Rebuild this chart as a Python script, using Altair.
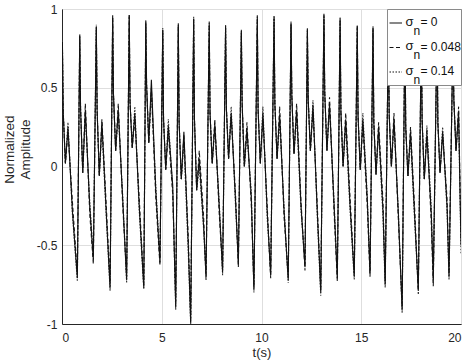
import altair as alt
import pandas as pd

# ---- values ----
peak_times = [0.02, 0.89, 1.72, 2.54, 3.37, 4.20, 5.05, 5.83, 6.60, 7.38, 8.20, 8.99, 9.79,
              10.63, 11.48, 12.30, 13.13, 13.94, 14.80, 15.59, 16.36, 17.19, 18.01, 18.80, 19.60]
min_times = [0.77, 1.57, 2.41, 3.24, 4.10, 4.91, 5.70, 6.45, 7.22, 8.05, 8.84, 9.62,
             10.46, 11.34, 12.18, 12.97, 13.80, 14.65, 15.44, 16.20, 17.05, 17.86, 18.61, 19.40]

shoulders = [0.35, 0.37, 0.36, 0.46, 0.41, 0.52, 0.30, 0.28, 0.30, 0.34, 0.37, 0.40, 0.36,
             0.40, 0.45, 0.43, 0.47, 0.35, 0.32, 0.28, 0.33, 0.25, 0.30, 0.28, 0.43]
dips = [0.02, -0.04, -0.06, 0.10, 0.12, 0.15, -0.02, -0.08, -0.15, 0.02, 0.05, 0.00, 0.02,
        0.05, 0.08, 0.10, 0.10, 0.00, -0.02, -0.05, 0.00, -0.06, -0.08, -0.04, 0.10]

# sigma_n = 0
peaks_0 = [0.79, 0.83, 0.89, 0.96, 0.96, 0.92, 0.87, 0.90, 0.94, 0.91, 0.89, 0.86, 0.95,
           0.95, 0.91, 0.87, 0.97, 0.94, 0.89, 0.88, 0.86, 0.90, 0.84, 0.88, 0.83]
bumps_0 = [0.25, 0.36, 0.28, 0.36, 0.34, 0.55, 0.26, 0.22, 0.05, 0.27, 0.34, 0.24, 0.34,
           0.33, 0.36, 0.39, 0.40, 0.30, 0.30, 0.25, 0.30, 0.22, 0.20, 0.22, 0.35]
knees_0 = [-0.28, -0.25, -0.30, -0.20, -0.25, -0.15, -0.12, -0.50, -0.38, -0.25, -0.22, -0.20, -0.30,
           -0.28, -0.25, -0.30, -0.22, -0.25, -0.20, -0.28, -0.30, -0.35, -0.30, -0.25, -0.50]
minima_0 = [-0.71, -0.59, -0.77, -0.72, -0.77, -0.61, -0.89, -0.99, -0.70, -0.67, -0.62, -0.78,
            -0.69, -0.72, -0.64, -0.80, -0.71, -0.70, -0.68, -0.75, -0.91, -0.79, -0.71, -0.70]

# sigma_n = 0.048
peaks_048 = [0.78, 0.84, 0.88, 0.95, 0.97, 0.91, 0.86, 0.91, 0.93, 0.92, 0.88, 0.85, 0.96,
             0.94, 0.90, 0.88, 0.96, 0.93, 0.90, 0.87, 0.85, 0.91, 0.85, 0.87, 0.84]
bumps_048 = [0.22, 0.40, 0.30, 0.40, 0.30, 0.50, 0.22, 0.20, 0.10, 0.30, 0.32, 0.28, 0.30,
             0.38, 0.40, 0.35, 0.44, 0.34, 0.26, 0.28, 0.34, 0.25, 0.24, 0.20, 0.38]
knees_048 = [-0.22, -0.30, -0.25, -0.24, -0.20, -0.20, -0.18, -0.45, -0.32, -0.30, -0.18, -0.25, -0.26,
             -0.32, -0.22, -0.26, -0.27, -0.20, -0.25, -0.22, -0.34, -0.30, -0.36, -0.20, -0.45]
minima_048 = [-0.68, -0.62, -0.74, -0.70, -0.75, -0.63, -0.86, -0.97, -0.72, -0.65, -0.64, -0.76,
              -0.71, -0.70, -0.66, -0.78, -0.73, -0.68, -0.70, -0.73, -0.89, -0.81, -0.76, -0.68]

# sigma_n = 0.14
peaks_014 = [0.80, 0.82, 0.90, 0.94, 0.95, 0.93, 0.88, 0.89, 0.95, 0.90, 0.90, 0.87, 0.94,
             0.96, 0.92, 0.86, 0.95, 0.95, 0.88, 0.89, 0.87, 0.89, 0.86, 0.89, 0.82]
bumps_014 = [0.28, 0.32, 0.24, 0.33, 0.38, 0.48, 0.30, 0.15, 0.00, 0.24, 0.38, 0.20, 0.38,
             0.28, 0.32, 0.42, 0.36, 0.26, 0.34, 0.22, 0.26, 0.18, 0.26, 0.25, 0.30]
knees_014 = [-0.30, -0.22, -0.32, -0.18, -0.28, -0.12, -0.15, -0.55, -0.40, -0.22, -0.26, -0.16, -0.34,
             -0.25, -0.28, -0.33, -0.20, -0.28, -0.18, -0.32, -0.28, -0.38, -0.26, -0.28, -0.55]
minima_014 = [-0.73, -0.57, -0.79, -0.74, -0.78, -0.59, -0.91, -1.00, -0.68, -0.69, -0.60, -0.80,
              -0.67, -0.74, -0.62, -0.82, -0.69, -0.72, -0.66, -0.77, -0.93, -0.77, -0.74, -0.72]

legend_labels = ["0", "0.048", "0.14"]
x_ticks = [0, 5, 10, 15, 20]
y_ticks = [-1, -0.5, 0, 0.5, 1]
T_END = 20.0


def build(name, peaks, bumps, knees, minima):
    rows = []
    for i, tp in enumerate(peak_times):
        pts = [(tp, peaks[i]), (tp + 0.04, shoulders[i]), (tp + 0.15, dips[i]), (tp + 0.28, bumps[i])]
        if i < len(min_times):
            pts += [(tp + 0.50, knees[i]), (min_times[i], minima[i])]
        else:
            pts += [(T_END, knees[i])]
        for t, v in pts:
            rows.append({"t": t, "v": v, "series": name})
    return pd.DataFrame(rows)


df0 = build("0", peaks_0, bumps_0, knees_0, minima_0)
df048 = build("0.048", peaks_048, bumps_048, knees_048, minima_048)
df014 = build("0.14", peaks_014, bumps_014, knees_014, minima_014)

FONT = "Liberation Sans"
TXT = "#262626"

x_enc = alt.X("t:Q", scale=alt.Scale(domain=[0, 20], nice=False),
              axis=alt.Axis(values=x_ticks, title="t(s)", grid=True, gridColor="#dedede",
                            labelExpr="toString(datum.value)", ticks=False, labelPadding=8,
                            titlePadding=3, labelFontSize=12, titleFontSize=13,
                            titleFontWeight="normal", labelColor=TXT, titleColor=TXT,
                            domainColor=TXT, labelFont=FONT, titleFont=FONT))
y_enc = alt.Y("v:Q", scale=alt.Scale(domain=[-1, 1], nice=False),
              axis=alt.Axis(values=y_ticks, title=["Normalized", "Amplitude"], grid=True,
                            gridColor="#dedede", labelExpr="toString(datum.value)", ticks=False,
                            labelPadding=5, titlePadding=4, labelFontSize=12, titleFontSize=13.5,
                            titleFontWeight="normal", labelColor=TXT, titleColor=TXT,
                            domainColor=TXT, labelFont=FONT, titleFont=FONT, titleY=140))

dashes = {"0": [1, 0], "0.048": [4, 2.5], "0.14": [1.5, 1.5]}
colors = {"0": "#111111", "0.048": "#1a1a1a", "0.14": "#333333"}

line014 = alt.Chart(df014).mark_line(color=colors["0.14"], strokeWidth=1.1, strokeDash=dashes["0.14"],
                                     clip=True).encode(x=x_enc, y=y_enc)
line048 = alt.Chart(df048).mark_line(color=colors["0.048"], strokeWidth=1.1, strokeDash=dashes["0.048"],
                                     clip=True).encode(x=x_enc, y=y_enc)
line0 = alt.Chart(df0).mark_line(color=colors["0"], strokeWidth=1.1, clip=True).encode(x=x_enc, y=y_enc)

# ---- legend drawn by hand (MATLAB style, sigma with subscript n) ----
one = pd.DataFrame({"k": [0]})
layers = [line014, line048, line0]
box = alt.Chart(one).mark_rect(fill="white", stroke="#8a8a8a", strokeWidth=1).encode(
    x=alt.value(325.5), x2=alt.value(399.5), y=alt.value(0.5), y2=alt.value(76.5))
layers.append(box)
row_y = [12.5, 37.0, 61.5]
for i, lab in enumerate(legend_labels):
    yy = row_y[i]
    layers.append(alt.Chart(one).mark_rule(color="#111111", strokeWidth=1.1,
                                           strokeDash=dashes[lab]).encode(
        x=alt.value(327.5), x2=alt.value(340), y=alt.value(yy + 1.5)))
    layers.append(alt.Chart(one).mark_text(font=FONT, fontSize=13, color="#111111", align="left",
                                           baseline="middle").encode(
        x=alt.value(343.5), y=alt.value(yy), text=alt.value("σ")))
    layers.append(alt.Chart(one).mark_text(font=FONT, fontSize=12, color="#111111", align="left",
                                           baseline="middle").encode(
        x=alt.value(351.5), y=alt.value(yy + 9), text=alt.value("n")))
    layers.append(alt.Chart(one).mark_text(font=FONT, fontSize=12, color="#111111", align="left",
                                           baseline="middle").encode(
        x=alt.value(358.5), y=alt.value(yy + 0.5), text=alt.value("= " + lab)))

chart = alt.layer(*layers).properties(
    width=399, height=315,
    autosize=alt.AutoSizeParams(type="none"),
    padding={"left": 62, "top": 9, "right": 13, "bottom": 38},
    background="white",
).configure_view(stroke=TXT, strokeWidth=1)

chart.save("out.html", embed_options={"renderer": "svg", "actions": False})
